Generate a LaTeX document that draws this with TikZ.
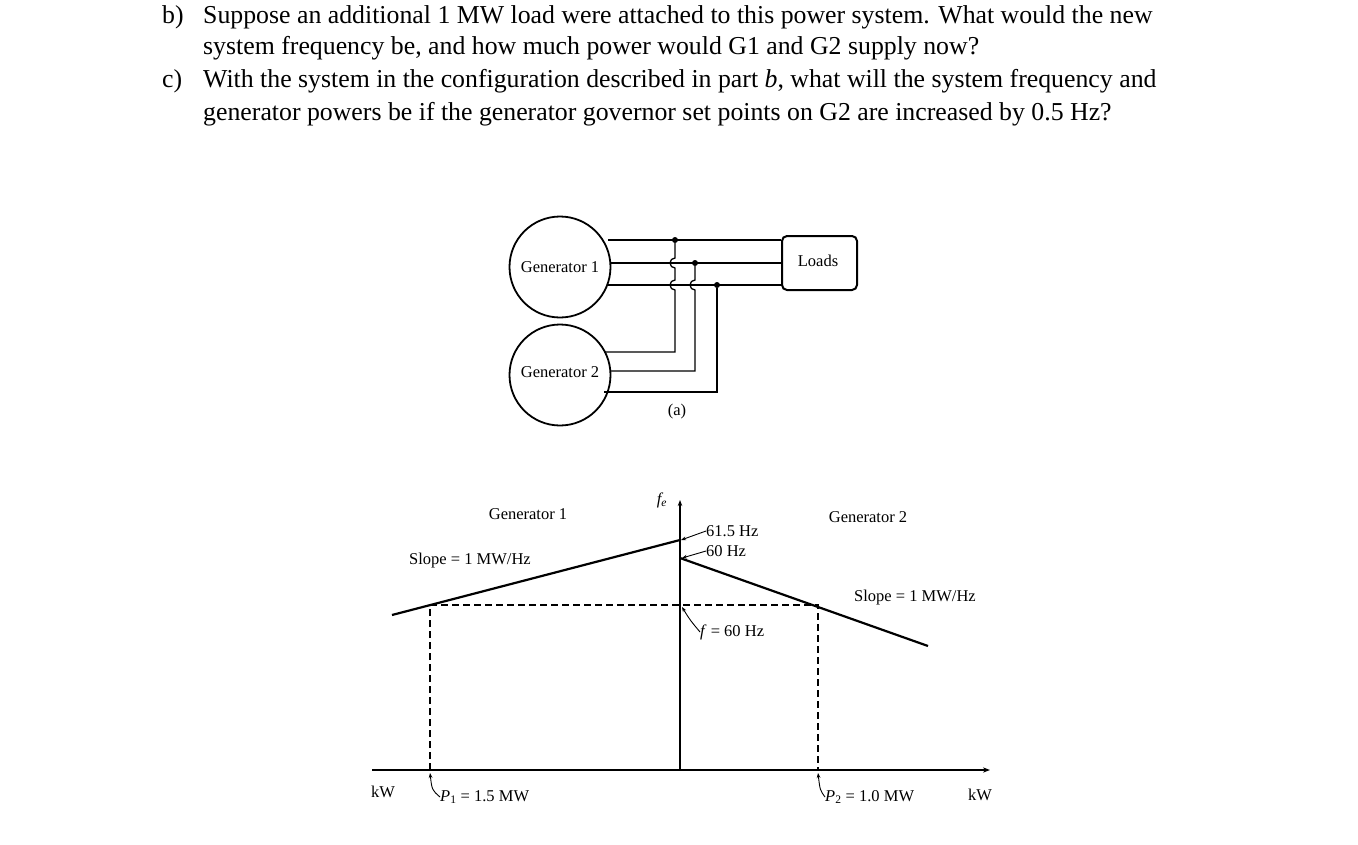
\documentclass[tikz,border=0pt]{standalone}
\usepackage{fontspec}
\setmainfont{Liberation Serif}
\usetikzlibrary{arrows.meta}
\begin{document}
\begin{tikzpicture}[x=1pt,y=-1pt,
  q/.style={font=\fontsize{25.8}{30}\selectfont,anchor=west,inner sep=0},
  lb/.style={font=\fontsize{16.5}{18}\selectfont,inner sep=0},
  gen/.style={draw,circle,minimum size=101pt,inner sep=0,line width=1.8pt},
  w/.style={line width=1.3pt},
  dot/.style={circle,fill,inner sep=0,minimum size=6pt},
  ptr/.style={line width=0.9pt,-{Stealth[length=5pt]}}]
\useasboundingbox (0,0) rectangle (1358,844);
\node[q] at (162,17) {b)};
\node[q] at (203,17) {Suppose an additional 1 MW load were attached to this power system. What would the new};
\node[q] at (203,48) {system frequency be, and how much power would G1 and G2 supply now?};
\node[q] at (162,81) {c)};
\node[q] at (203,81) {With the system in the configuration described in part \textit{b}, what will the system frequency and};
\node[q] at (203,114) {generator powers be if the generator governor set points on G2 are increased by 0.5 Hz?};
% circuit
\node[gen] (g1) at (560,267) {};
\node[lb] at (560,267) {Generator 1};
\node[gen] (g2) at (560,375) {};
\node[lb] at (560,372) {Generator 2};
\node[draw,rounded corners=5pt,line width=2pt,minimum width=75pt,minimum height=54pt] (ld) at (819.5,263) {};
\node[lb] at (818,261) {Loads};
\node[dot] (d1) at (675,240) {};
\node[dot] (d2) at (695,263) {};
\node[dot] (d3) at (717,285) {};
\draw[w] (608,240) -- (ld.west |- 0,240);
\draw[w] (611,263) -- (ld.west |- 0,263);
\draw[w] (608,285) -- (ld.west |- 0,285);
\draw[w] (d1) -- (675,258) arc[start angle=-90,end angle=-270,radius=5] -- (675,280) arc[start angle=-90,end angle=-270,radius=5] -- (675,352) -- (604,352);
\draw[w] (d2) -- (695,280) arc[start angle=-90,end angle=-270,radius=5] -- (695,371) -- (610,371);
\draw[w] (d3) -- (717,392) -- (604,392);
\node[lb] at (677,412) {(a)};
% graph
\coordinate (o) at (680,770);
\draw[w,-{Stealth[length=7pt]}] (372,770) -- (990,770);
\draw[w,-{Stealth[length=6pt]}] (o) -- (680,500);
\node[lb] at (662,500) {\textit{f\textsubscript{e}}};
\draw[line width=2.2pt] (392,615) -- (680,540);
\draw[line width=2.2pt] (680,558) -- (928,646);
\draw[w,dash pattern=on 7pt off 4pt] (430,770) -- (430,605) -- (818,605) -- (818,770);
\node[lb] at (528,514) {Generator 1};
\node[lb] at (868,517) {Generator 2};
\node[lb] at (470,561) {Slope = 1 MW/Hz};
\node[lb] at (915,598) {Slope = 1 MW/Hz};
\node[lb,anchor=west] (h1) at (706,531) {61.5 Hz};
\node[lb,anchor=west] (h2) at (706,551) {60 Hz};
\draw[ptr] (h1.west) -- (681,540);
\draw[ptr] (h2.west) -- (682,558);
\node[lb,anchor=west] (f) at (700,632) {\textit{f} = 60 Hz};
\draw[ptr] (f.west) .. controls (690,620) .. (682,607);
\node[lb] at (383,792) {kW};
\node[lb] at (980,795) {kW};
\node[lb,anchor=west] (p1) at (440,797) {\textit{P}\textsubscript{1} = 1.5 MW};
\node[lb,anchor=west] (p2) at (825,797) {\textit{P}\textsubscript{2} = 1.0 MW};
\draw[ptr] (p1.west) .. controls (432,790) .. (430,773);
\draw[ptr] (p2.west) .. controls (820,790) .. (818,773);
\end{tikzpicture}
\end{document}
